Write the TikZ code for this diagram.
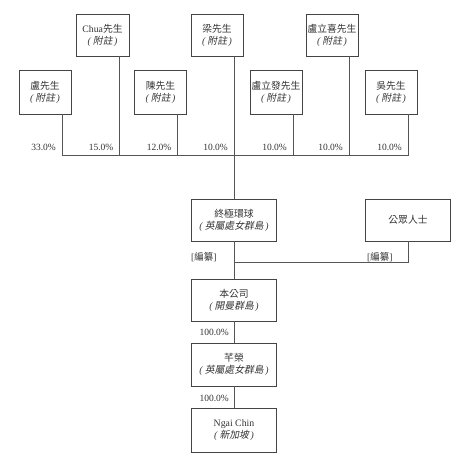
\documentclass[tikz,border=0pt]{standalone}
\usepackage{fontspec}
\setmainfont{Liberation Serif}
\newfontfamily\cjkfont{Noto Sans CJK TC}
\newfontfamily\cjkitfont[FakeSlant=0.2]{Noto Sans CJK TC}
\newcommand{\C}[1]{{\cjkfont #1}}
\newcommand{\CI}[1]{\textit{(}\,{\cjkitfont #1}\,\textit{)}}
\definecolor{boxc}{HTML}{444444}
\definecolor{linec}{HTML}{555555}
\definecolor{txt}{HTML}{333333}
\usetikzlibrary{calc}
\begin{document}
\begin{tikzpicture}[x=1pt,y=-1pt,
  box/.style={draw=boxc, line width=0.9pt, minimum height=42pt, inner sep=0pt, align=center, text=txt, font=\fontsize{9.8}{12}\selectfont},
  conn/.style={draw=linec, line width=0.9pt},
  pct/.style={anchor=base east, text=txt, font=\fontsize{9.5}{10}\selectfont, inner sep=0pt},
  lbl/.style={anchor=base west, text=txt, font=\fontsize{9.5}{10}\selectfont, inner sep=0pt}]
\useasboundingbox (0,0) rectangle (470,464);
% top row
\node[box, minimum width=53pt] (chua) at (102.5,35) {Chua\C{先生}\\\CI{附註}};
\node[box, minimum width=52pt] (liang) at (217,35) {\C{梁先生}\\\CI{附註}};
\node[box, minimum width=52pt] (lulx) at (332,35) {\C{盧立喜先生}\\\CI{附註}};
% second row
\node[box, minimum width=52pt, minimum height=44pt] (lu) at (45,92) {\C{盧先生}\\\CI{附註}};
\node[box, minimum width=52pt, minimum height=44pt] (chen) at (160.5,92) {\C{陳先生}\\\CI{附註}};
\node[box, minimum width=52pt, minimum height=44pt] (lulf) at (276,92) {\C{盧立發先生}\\\CI{附註}};
\node[box, minimum width=52pt, minimum height=44pt] (wu) at (391,92) {\C{吳先生}\\\CI{附註}};
% lower boxes
\node[box, minimum width=85pt] (zhong) at (234,220) {\C{終極環球}\\\CI{英屬處女群島}};
\node[box, minimum width=85pt] (gz) at (408,220) {\C{公眾人士}};
\node[box, minimum width=85pt] (bengs) at (234,300) {\C{本公司}\\\CI{開曼群島}};
\node[box, minimum width=85pt, minimum height=43pt] (qr) at (234,364.5) {\C{芊榮}\\\CI{英屬處女群島}};
\node[box, minimum width=85pt, minimum height=44pt] (ngai) at (234,430) {Ngai Chin\\\CI{新加坡}};
% connection points
\coordinate (luP) at ([xshift=17pt]lu.south);
\coordinate (chuaP) at ([xshift=17pt]chua.south);
\coordinate (chenP) at ([xshift=17pt]chen.south);
\coordinate (liangP) at ([xshift=17pt]liang.south);
\coordinate (lulfP) at ([xshift=17pt]lulf.south);
\coordinate (lulxP) at ([xshift=17pt]lulx.south);
\coordinate (wuP) at ([xshift=17pt]wu.south);
\coordinate (busL) at (62,155);
\coordinate (busR) at (408,155);
\coordinate (jn) at (234,262);
% bus
\draw[conn] (luP) -- (luP |- busL) -- (busR) -- (wuP);
\draw[conn] (chuaP) -- (chuaP |- busL);
\draw[conn] (chenP) -- (chenP |- busL);
\draw[conn] (lulfP) -- (lulfP |- busL);
\draw[conn] (lulxP) -- (lulxP |- busL);
\draw[conn] (liangP) -- (zhong.north);
% percentages
\node[pct] (p1) at ($(luP |- busL)+(-6,-5)$) {33.0\%};
\node[pct] (p2) at ($(chuaP |- busL)+(-6,-5)$) {15.0\%};
\node[pct] (p3) at ($(chenP |- busL)+(-6,-5)$) {12.0\%};
\node[pct] (p4) at ($(liangP |- busL)+(-6,-5)$) {10.0\%};
\node[pct] (p5) at ($(lulfP |- busL)+(-6,-5)$) {10.0\%};
\node[pct] (p6) at ($(lulxP |- busL)+(-6,-5)$) {10.0\%};
\node[pct] (p7) at ($(wuP |- busL)+(-6,-5)$) {10.0\%};
% lower
\draw[conn] (zhong.south) -- (bengs.north);
\draw[conn] (gz.south) |- (jn);
\draw[conn] (bengs.south) -- (qr.north);
\draw[conn] (qr.south) -- (ngai.north);
\node[lbl] (b1) at (191,260) {[\C{編纂}]};
\node[lbl] (b2) at (367,260) {[\C{編纂}]};
\node[pct] (p8) at (229,335) {100.0\%};
\node[pct] (p9) at (229,401) {100.0\%};
\end{tikzpicture}
\end{document}
